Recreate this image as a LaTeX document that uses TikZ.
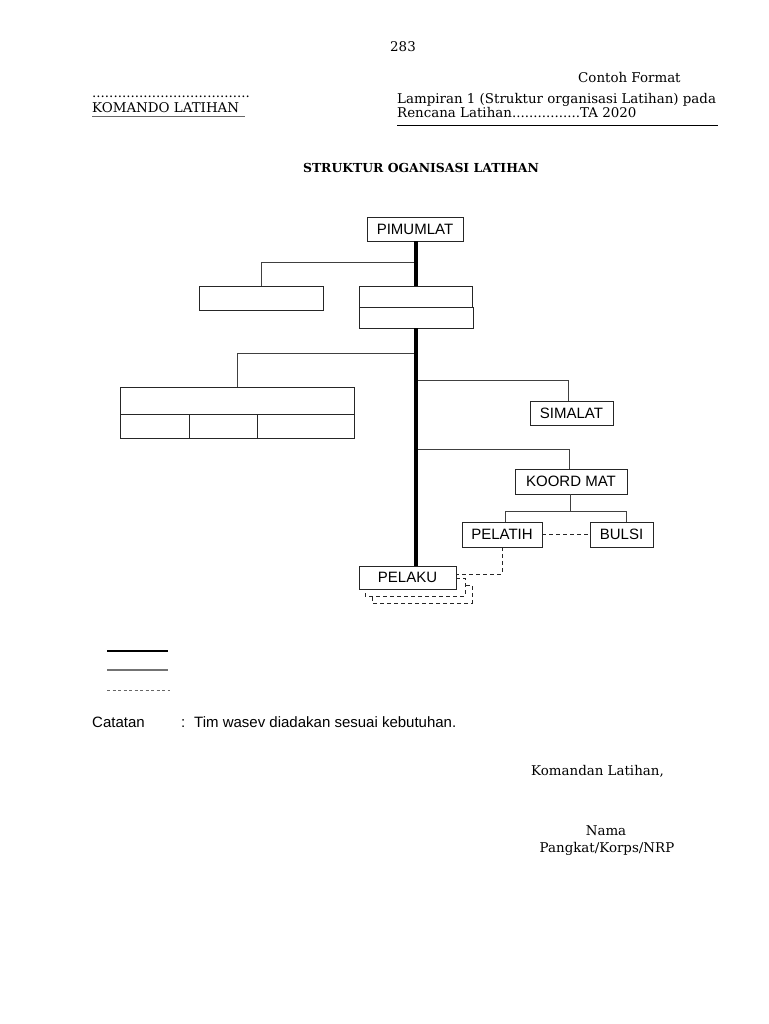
\documentclass[tikz,border=0pt]{standalone}
\usepackage{fontspec}
\setmainfont{DejaVu Serif}
\newfontfamily\arialf{Liberation Sans}
\usetikzlibrary{positioning}
\begin{document}
\begin{tikzpicture}[x=1pt,y=-1pt,
  serif/.style={inner sep=0pt,font=\fontsize{13.4}{15}\selectfont},
  sans/.style={inner sep=0pt,font=\arialf\fontsize{15}{17}\selectfont},
  box/.style={draw=black!85,line width=0.9pt,fill=white,rectangle,inner sep=0pt,font=\arialf\fontsize{15}{17}\selectfont},
  conn/.style={draw=black!75,line width=1pt},
  spine/.style={draw=black,line width=3.2pt},
  dashc/.style={draw=black!85,line width=1pt,dash pattern=on 4pt off 3pt}]
\useasboundingbox (0,0) rectangle (768,1024);
% header
\node[serif,anchor=base] (pg) at (403,52) {283};
\node[serif,anchor=base west] (cf) at (578,83) {Contoh Format};
\node[serif,anchor=base west] (dots) at (92,98) {.....................................};
\node[serif,anchor=base west] (kl) at (92,113) {KOMANDO LATIHAN};
\draw[black!60,line width=0.9pt] (kl.base west)++(0,3) coordinate (u1) -- ++(153,0) coordinate (u2);
\node[serif,anchor=base west] (lp1) at (397,104) {Lampiran 1 (Struktur organisasi Latihan) pada};
\node[serif,anchor=base west] (lp2) at (397,118) {Rencana Latihan................TA 2020};
\coordinate (hl1) at (397,126);
\coordinate (hl2) at (718,126);
\draw[black,line width=1pt] (hl1) -- (hl2);
\node[inner sep=0pt,anchor=base,font=\fontsize{12.4}{14}\selectfont\bfseries] (title) at (421,173) {STRUKTUR OGANISASI LATIHAN};
% boxes
\node[box,minimum width=96pt,minimum height=24pt] (pim) at (415,229) {PIMUMLAT};
\node[box,minimum width=124pt,minimum height=24pt] (l1) at (261,298) {};
\node[box,minimum width=113pt,minimum height=21pt] (m1) at (415.5,296.5) {};
\node[box,minimum width=114pt,minimum height=21pt] (m2) at (416,317.5) {};
\node[box,minimum width=234pt,minimum height=27pt] (bt) at (237,400.5) {};
\node[box,minimum width=69pt,minimum height=24pt] (c1) at (154.5,426) {};
\node[box,minimum width=68pt,minimum height=24pt] (c2) at (223,426) {};
\node[box,minimum width=97pt,minimum height=24pt] (c3) at (305.5,426) {};
\node[box,minimum width=83pt,minimum height=24pt] (sim) at (571.5,413) {SIMALAT};
\node[box,minimum width=112pt,minimum height=25pt] (koord) at (571,481.5) {KOORD MAT};
\node[box,minimum width=80pt,minimum height=25pt] (pel) at (502,534.5) {PELATIH};
\node[box,minimum width=63pt,minimum height=25pt] (bul) at (621.5,534.5) {BULSI};
\node[box,minimum width=97pt,minimum height=23pt] (plk) at (407.5,577.5) {PELAKU};
% spine coordinates
\coordinate (s1) at (416,262);
\coordinate (s2) at (416,353);
\coordinate (s3) at (416,380);
\coordinate (s4) at (416,449);
\coordinate (sb) at (416,566);
% thin connectors
\draw[conn] (s1) -| (l1.north);
\draw[conn] (s2) -| (bt.north);
\draw[conn] (s3) -| (sim.north -| 568,0);
\draw[conn] (s4) -| (koord.north -| 569,0);
\coordinate (kj) at (570,511);
\coordinate (pj) at (505,511);
\coordinate (bj) at (626,511);
\draw[conn] (koord.south -| kj) -- (kj);
\draw[conn] (pel.north -| pj) -- (pj) -- (bj) -- (bul.north -| bj);
% spine
\draw[spine] (pim.south -| s1) -- (m1.north -| s1);
\draw[spine] (m2.south -| s1) -- (sb);
% dashed
\draw[dashc] (pel.east) -- (bul.west);
\coordinate (d1) at (502,574);
\draw[dashc] (pel.south -| d1) -- (d1) -- (plk.east |- d1);
\coordinate (i1) at (465,578);
\coordinate (i2) at (465,596);
\coordinate (i3) at (365,596);
\draw[dashc] (plk.east |- i1) -- (i1) -- (i2) -- (i3) -- (plk.south -| i3);
\coordinate (o0) at (466,585);
\coordinate (o1) at (472,585);
\coordinate (o2) at (472,603);
\coordinate (o3) at (372,603);
\coordinate (o4) at (372,597);
\draw[dashc] (o0) -- (o1) -- (o2) -- (o3) -- (o4);
% legend
\coordinate (la1) at (107,651); \coordinate (la2) at (168,651);
\coordinate (lb1) at (107,670); \coordinate (lb2) at (168,670);
\coordinate (lc1) at (107,690); \coordinate (lc2) at (170,690);
\draw[black,line width=1.8pt] (la1) -- (la2);
\draw[black!55,line width=1.6pt] (lb1) -- (lb2);
\draw[black!60,line width=1pt,dash pattern=on 3pt off 2.5pt] (lc1) -- (lc2);
% note
\node[sans,anchor=base west] (cat) at (92,727) {Catatan};
\node[sans,anchor=base west] (colon) at (181,727) {:};
\node[sans,anchor=base west] (tim) at (194,727) {Tim wasev diadakan sesuai kebutuhan.};
% signature
\node[serif,anchor=base west] (kom) at (531,775) {Komandan Latihan,};
\node[serif,anchor=base] (nama) at (606,835) {Nama};
\node[serif,anchor=base] (pkt) at (607,852) {Pangkat/Korps/NRP};
\end{tikzpicture}
\end{document}
